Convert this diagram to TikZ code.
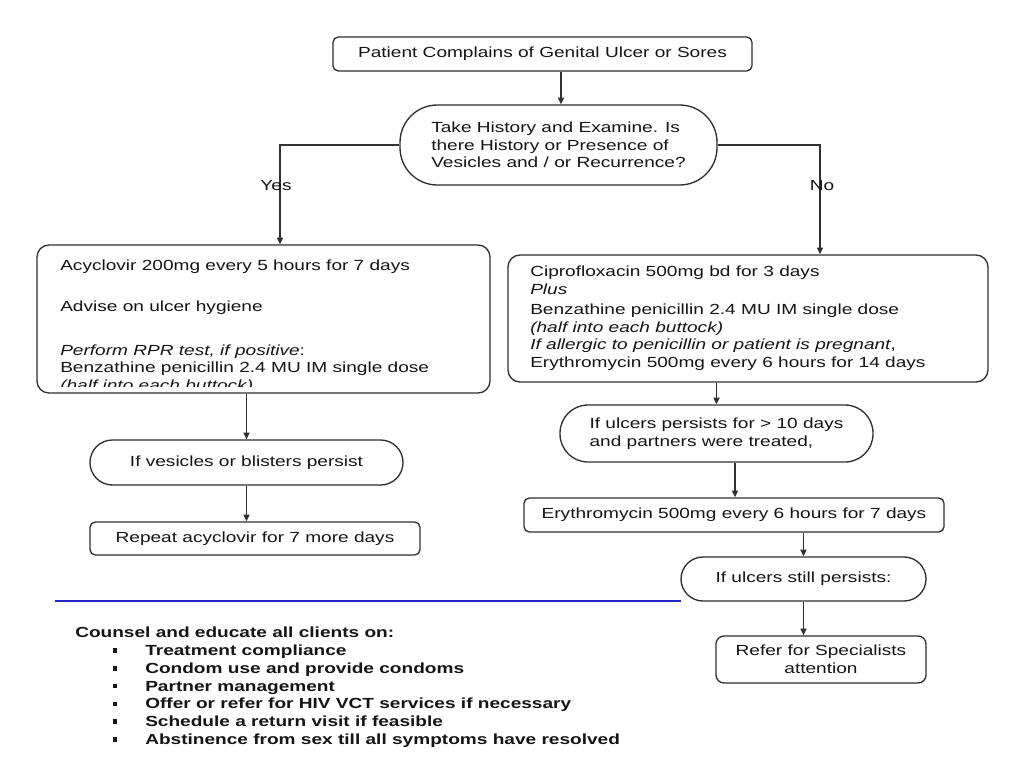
\documentclass[tikz,border=0pt]{standalone}
\usepackage{fontspec}
\setmainfont{Liberation Sans}[FakeStretch=1.30]
\usetikzlibrary{arrows.meta}
\definecolor{ink}{HTML}{151515}
\definecolor{edge}{HTML}{303030}
\definecolor{rule}{HTML}{2424C8}
\begin{document}
\begin{tikzpicture}[x=0.75pt,y=-0.75pt,
  every node/.style={font=\fontsize{11}{13.3}\selectfont, text=ink},
  boxnode/.style={draw=edge, line width=1pt, rounded corners=4pt, inner sep=0pt, align=center},
  stadium/.style={draw=edge, line width=1pt, inner sep=0pt, align=left},
  arr/.style={draw=edge, line width=1pt, -{Triangle[length=5pt,width=4.5pt]}},
  lnk/.style={draw=edge, line width=1pt}]
\fill[white] (0,0) rectangle (1024,768);
\useasboundingbox (0,0) rectangle (1024,768);

% shapes
\node[boxnode, minimum width=314.25pt, minimum height=25.5pt] (top) at (542.5,54) {Patient Complains of Genital Ulcer or Sores};
\node[stadium, rounded corners=28pt, minimum width=237.75pt, minimum height=60pt] (dec) at (558.5,145)
  {Take History and Examine. Is\\there History or Presence of\\Vesicles and / or Recurrence?};
\node[boxnode, rounded corners=9pt, minimum width=339.75pt, minimum height=111pt] (lbox) at (263.5,319) {};
\begin{scope}
  \clip (40,250) rectangle (488,386);
  \node[anchor=north west, inner sep=0pt, align=left] (ltext) at (60,260)
    {Acyclovir 200mg every 5 hours for 7 days\\[17.5pt]
     Advise on ulcer hygiene\\[19pt]
     \textit{Perform RPR test, if positive}:\\
     Benzathine penicillin 2.4 MU IM single dose\\
     \textit{(half into each buttock)}};
\end{scope}
\node[boxnode, rounded corners=9pt, minimum width=360pt, minimum height=95.25pt] (rbox) at (748,318.5) {};
\node[anchor=north west, inner sep=0pt, align=left] (rtext) at (530,266)
  {Ciprofloxacin 500mg bd for 3 days\\
   \textit{Plus}\\[1.5pt]
   Benzathine penicillin 2.4 MU IM single dose\\
   \textit{(half into each buttock)}\\
   \textit{If allergic to penicillin or patient is pregnant},\\
   Erythromycin 500mg every 6 hours for 14 days};

\node[stadium, rounded corners=16.8pt, minimum width=234.75pt, minimum height=33.75pt] (l1) at (246.5,462.5) {If vesicles or blisters persist};
\node[boxnode, minimum width=247.5pt, minimum height=24.75pt] (l2) at (255,538.5) {Repeat acyclovir for 7 more days};

\node[stadium, rounded corners=21pt, minimum width=234.75pt, minimum height=42.75pt] (r1) at (716.5,433.5)
  {If ulcers persists for > 10 days\\and partners were treated,};
\node[boxnode, minimum width=315pt, minimum height=25.5pt] (r2) at (734,515) {Erythromycin 500mg every 6 hours for 7 days};
\node[stadium, rounded corners=16.5pt, minimum width=183.75pt, minimum height=33pt] (r3) at (803.5,579) {If ulcers still persists:};
\node[boxnode, rounded corners=6pt, minimum width=157.5pt, minimum height=35.25pt] (r4) at (821,659.5) {Refer for Specialists\\attention};

% helper coordinates
\coordinate (xtop) at (561,0);
\coordinate (xyes) at (280,0);
\coordinate (xno) at (820,0);
\coordinate (xr) at (735,0);

% connectors
\draw[arr] (top.south -| xtop) -- (dec.north -| xtop);
\draw[arr] (dec.west) -| (lbox.north -| xyes);
\draw[arr] (dec.east) -| (rbox.north -| xno);
\draw[arr] (lbox.south -| l1.north) -- (l1.north);
\draw[arr] (l1.south) -- (l2.north -| l1.south);
\draw[arr] (rbox.south -| r1.north) -- (r1.north);
\draw[arr] (r1.south -| xr) -- (r2.north -| xr);
\draw[arr] (r2.south -| r3.north) -- (r3.north);
\draw[arr] (r3.south) -- (r4.north -| r3.south);

\node (yes) at (276,186) {Yes};
\node (no) at (822,186) {No};

% blue rule
\coordinate (ra) at (55,601);
\coordinate (rb) at (681,601);
\draw[rule, line width=2pt] (ra) -- (rb);

% counsel list
\newcommand{\sqb}{\hspace*{28pt}\makebox[24.5pt][l]{\rule[2pt]{3.4pt}{3.4pt}}}
\node[anchor=north west, inner sep=0pt, align=left, font=\fontsize{11}{13.3}\selectfont\bfseries] (counsel) at (75,627)
  {Counsel and educate all clients on:\\
   \sqb Treatment compliance\\
   \sqb Condom use and provide condoms\\
   \sqb Partner management\\
   \sqb Offer or refer for HIV VCT services if necessary\\
   \sqb Schedule a return visit if feasible\\
   \sqb Abstinence from sex till all symptoms have resolved};
\end{tikzpicture}
\end{document}
